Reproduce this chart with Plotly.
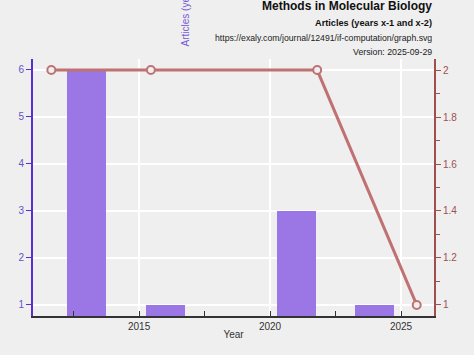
import plotly.graph_objects as go

bar_years = [2013, 2016, 2021, 2024]
bar_values = [6, 1, 3, 1]
line_years = [2011.65, 2015.45, 2021.8, 2025.6]
line_values = [2, 2, 2, 1]

FONT = "Liberation Sans, Arial, sans-serif"
BG = "#efefef"

fig = go.Figure()
fig.add_trace(go.Bar(x=bar_years, y=bar_values, width=1.5,
                     marker=dict(color="#9b77e6", line=dict(width=0)),
                     yaxis="y", showlegend=False))
fig.add_trace(go.Scatter(x=line_years, y=line_values, yaxis="y2", mode="lines+markers",
                         line=dict(color="#c07272", width=3),
                         marker=dict(symbol="circle", size=8, color=BG,
                                     line=dict(color="#c07272", width=2)),
                         showlegend=False))

fig.update_layout(
    width=474, height=355,
    margin=dict(l=33, r=40, t=59, b=39, autoexpand=False),
    paper_bgcolor=BG, plot_bgcolor=BG,
    font=dict(family=FONT, size=10, color="#333"),
    xaxis=dict(range=[2010.95, 2026.26], tickvals=[2015, 2020, 2025], automargin=False,
               ticks="inside", ticklen=5, tickcolor="#333",
               showline=True, linecolor="#333", linewidth=2,
               showgrid=True, gridcolor="white", gridwidth=1.5,
               zeroline=False, tickfont=dict(size=10, color="#333"),
               minor=dict(tickvals=[2012.5, 2017.5, 2022.5], ticks="inside", ticklen=5, tickcolor="#333"),
               title=dict(text="Year", font=dict(size=10, color="#333"), standoff=0)),
    yaxis=dict(range=[0.766, 6.23], tickvals=[1, 2, 3, 4, 5, 6], automargin=False,
               ticks="outside", ticklen=5, tickcolor="#5a2fd0",
               showline=True, linecolor="#5a2fd0", linewidth=2,
               showgrid=True, gridcolor="white", gridwidth=1.5, zeroline=False,
               tickfont=dict(size=10, color="#6a50c8")),
    yaxis2=dict(range=[0.953, 2.047], overlaying="y", side="right", automargin=False,
                tickvals=[1, 1.2, 1.4, 1.6, 1.8, 2], ticktext=["1", "1.2", "1.4", "1.6", "1.8", "2"],
                ticks="outside", ticklen=5, tickcolor="#a04f4f",
                showline=True, linecolor="#a04f4f", linewidth=2,
                showgrid=False, zeroline=False,
                minor=dict(tickvals=[1.1, 1.3, 1.5, 1.7, 1.9], ticks="outside", ticklen=4, tickcolor="#a04f4f"),
                tickfont=dict(size=10, color="#a04f4f")),
    bargap=0,
)

anns = [
    dict(text="<b>Methods in Molecular Biology</b>", y=15, size=12, color="#111"),
    dict(text="<b>Articles (years x-1 and x-2)</b>", y=30, size=9.2, color="#111"),
    dict(text="https://exaly.com/journal/12491/if-computation/graph.svg", y=45, size=8.7, color="#222"),
    dict(text="Version: 2025-09-29", y=59, size=8.8, color="#222"),
]
for a in anns:
    fig.add_annotation(text=a["text"], xref="paper", yref="paper",
                       x=(434 - 33) / 401, y=1 + (59 - a["y"]) / 257,
                       xanchor="right", yanchor="bottom", showarrow=False,
                       font=dict(size=a["size"], color=a["color"], family=FONT))

fig.add_annotation(text="Articles (years x-1 and x-2)", xref="paper", yref="paper",
                   x=(185 - 33) / 401, y=1 + (59 - 49) / 257, textangle=-90,
                   xanchor="center", yanchor="bottom", showarrow=False,
                   font=dict(size=10, color="#7b5cd6", family=FONT))

fig.write_html("out.html", config={"displayModeBar": False},
               post_script="document.body.style.margin='0';")
